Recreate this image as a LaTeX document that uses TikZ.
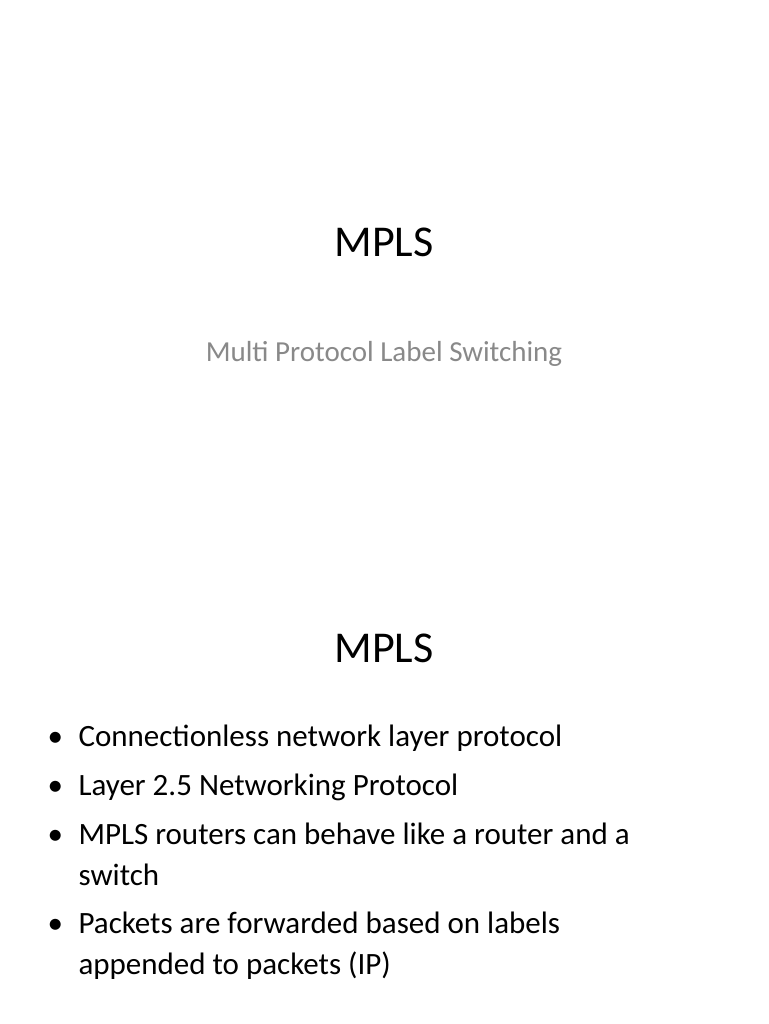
\documentclass[tikz,border=0pt]{standalone}
\usepackage{fontspec}
\setmainfont{Carlito}
\definecolor{subgray}{HTML}{898989}
\tikzset{title/.style={font=\fontsize{44}{50}\selectfont,anchor=base},
bul/.style={font=\fontsize{31}{38}\selectfont,anchor=base west,align=left}}
\begin{document}
\begin{tikzpicture}[x=1pt,y=-1pt]
\useasboundingbox[fill=white] (0,0) rectangle (768,1024);
\node[title] (t1) at (384,256) {MPLS};
\node[font=\fontsize{29}{34}\selectfont,anchor=base,text=subgray] (s1) at (384,361) {Multi Protocol Label Switching};
\node[title] (t2) at (384,662) {MPLS};
\node[bul] (b1) at (44,746) {•};
\node[bul] (c1) at (75,746) {Connectionless network layer protocol};
\node[bul] (b2) at (44,795) {•};
\node[bul] (c2) at (75,795) {Layer 2.5 Networking Protocol};
\node[bul] (b3) at (44,844) {•};
\node[bul] (c3) at (75,844) {MPLS routers can behave like a router and a};
\node[bul] (c3b) at (75,885) {switch};
\node[bul] (b4) at (44,933) {•};
\node[bul] (c4) at (75,933) {Packets are forwarded based on labels};
\node[bul] (c4b) at (75,974) {appended to packets (IP)};
\end{tikzpicture}
\end{document}
